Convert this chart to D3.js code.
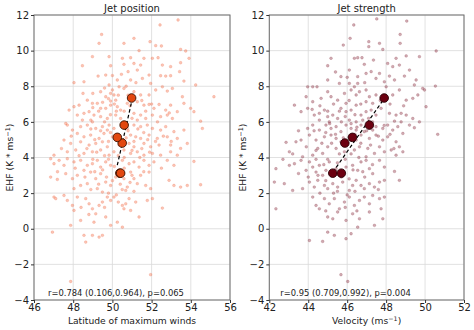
<!DOCTYPE html>
<html><head><meta charset="utf-8">
<script src="https://cdn.jsdelivr.net/npm/d3@7"></script>
<style>body{margin:0;background:#fff}svg{display:block;font-family:"DejaVu Sans",sans-serif}</style>
</head><body><div id="chart"></div>
<script>
// ---------- DATA ----------
const titles = ["Jet position", "Jet strength"];
const xLabels = ["Latitude of maximum winds", "Velocity (ms"];
const yTicks = [-4, -2, 0, 2, 4, 6, 8, 10, 12];
const xTicksPos = [46, 48, 50, 52, 54, 56];
const xTicksStr = [42, 44, 46, 48, 50, 52];
const statsPos = "r=0.784 (0.106,0.964), p=0.065";
const statsStr = "r=0.95 (0.709,0.992), p=0.004";

// binned means (large markers)
const binEHF = [3.12, 3.12, 4.81, 5.13, 5.82, 7.34];
const binLat = [50.38, 50.42, 50.50, 50.25, 50.60, 50.98];
const binVel = [45.26, 45.70, 45.88, 46.27, 47.14, 47.90];

// individual samples: [latitude, EHF]
const posPoints = [
[53.35,11.72],[52.43,11.44],[49.45,10.91],[51.10,10.69],[49.32,10.41],[50.59,10.41],[51.92,10.50],[52.21,10.28],[51.36,10.0],[53.48,10.07],[53.74,9.98],[52.50,10.26],
[48.98,9.66],[49.83,9.66],[50.51,9.57],[50.93,9.60],[51.61,9.57],[52.04,9.57],[52.33,9.60],[53.91,9.57],[48.47,9.15],[49.91,9.15],[50.59,9.23],[51.10,9.28],[51.44,9.19],[52.55,9.19],[52.97,9.10],[53.48,9.32],[49.27,8.57],[49.66,8.63],[50.46,8.67],[50.80,8.82],[51.27,8.91],[51.87,8.63],[52.46,8.59],[52.72,8.57],[52.97,8.59],[53.43,8.82],[48.04,8.20],[48.55,8.25],[50.25,8.35],[50.93,8.35],[51.53,8.44],[51.95,8.16],[53.65,8.29],[54.25,8.07],
[49.83,8.07],[50.0,7.79],[49.91,7.60],[50.08,7.51],[49.66,7.41],[50.17,7.22],[49.91,7.17],[49.40,7.69],[50.34,7.97],[50.59,7.88],[51.10,7.69],[51.44,7.51],[51.87,7.51],[52.21,7.79],[52.55,7.97],[52.80,7.73],[53.06,7.88],[53.57,7.41],[55.18,7.41],[48.04,6.85],[47.79,6.66],[48.30,6.94],[48.72,7.22],[48.98,7.04],[49.23,7.04],[49.40,6.76],[49.66,6.76],[49.91,6.94],[50.25,6.85],[50.42,6.66],[50.76,7.04],[51.27,7.13],[51.61,6.94],[51.87,6.98],[52.12,6.76],[52.38,6.98],[52.72,6.66],[52.97,6.94],[53.31,6.57],[53.65,7.04],[53.99,6.76],[48.21,6.38],[48.55,6.48],[48.81,6.57],[49.06,6.38],[49.40,6.29],[49.74,6.19],[50.17,6.38],[51.10,6.48],[51.44,6.38],[51.70,6.19],[52.04,6.38],[52.46,6.29],[52.80,6.38],[53.06,6.19],[54.16,6.57],[54.50,6.04],[47.62,5.91],[48.47,6.10],[48.98,6.0],[50.42,6.19],[51.27,6.10],
[47.70,5.82],[47.96,5.54],[48.38,5.73],[48.72,5.82],[49.15,5.63],[49.49,5.73],[49.74,5.54],[49.83,5.82],[50.08,5.63],[50.76,5.63],[51.10,5.82],[51.44,5.73],[51.78,5.82],[52.04,5.63],[52.46,5.54],[52.72,5.73],[53.14,5.45],[53.65,5.54],[54.59,5.63],[48.21,5.35],[48.55,5.16],[48.89,5.26],[49.32,5.07],[49.57,5.35],[50.0,5.16],[50.17,5.26],[50.93,5.26],[51.19,5.16],[51.44,5.07],[51.87,5.26],[52.29,5.07],[52.80,5.16],[53.31,5.07],[47.53,4.98],[47.87,4.79],[48.38,4.88],[48.81,4.70],[49.15,4.79],[49.49,4.88],[49.74,4.60],[50.34,4.70],[50.85,4.79],[51.10,4.60],[51.61,4.79],[51.95,4.60],[52.38,4.70],[52.97,4.70],[53.48,4.51],[53.82,4.79],[47.02,4.13],[47.70,4.32],[48.13,4.42],[48.55,4.23],[48.98,4.32],[49.40,4.42],[49.83,4.13],[50.08,4.32],[50.59,4.42],[50.93,4.23],[51.27,4.32],[51.61,4.13],[52.04,4.23],[52.46,4.13],[52.97,4.32],[53.31,4.13],
[46.85,3.93],[47.02,3.65],[47.28,3.84],[47.53,3.56],[47.70,3.93],[48.04,3.75],[48.38,3.84],[48.72,3.56],[48.98,3.65],[49.23,3.84],[49.40,3.46],[49.66,3.75],[49.91,3.56],[50.51,3.84],[50.85,3.65],[51.10,3.75],[51.36,3.46],[51.61,3.84],[51.87,3.56],[52.12,3.75],[52.80,3.84],[53.14,3.56],[54.16,3.78],
[46.85,2.90],[47.19,2.77],[47.62,3.09],[47.96,2.81],[48.21,3.0],[48.55,3.28],[48.72,2.53],[48.89,3.18],[49.15,2.81],[49.40,3.09],[49.66,2.62],[49.91,2.43],[50.17,2.90],[50.34,3.28],[50.59,2.81],[50.76,2.34],[50.93,3.18],[51.10,2.81],[51.27,2.53],[51.44,3.0],[51.70,2.43],[51.87,3.18],[52.89,2.72],[53.14,2.43],[53.48,2.34],[53.82,2.43],[54.50,2.47],[48.04,2.25],[48.38,2.43],[49.23,2.25],[49.49,2.06],[50.68,2.15],[51.10,2.10],[51.95,2.25],
[47.02,1.78],[47.11,1.69],[47.53,1.87],[47.70,1.59],[47.96,1.31],[48.04,1.03],[48.21,1.78],[48.64,1.69],[48.81,1.40],[48.98,1.12],[49.15,0.84],[49.32,1.31],[49.49,1.50],[49.66,0.66],[49.74,1.78],[49.91,1.59],[50.08,1.78],[50.51,1.31],[50.59,1.12],[50.68,1.40],[50.85,1.69],[50.93,1.03],[51.19,1.50],[51.36,0.66],[51.78,1.59],[52.04,1.69],[52.55,1.16],[47.87,0.19],[48.38,0.47],[49.06,0.37],[49.91,0.19],[50.25,0.37],[50.51,0.09],[46.94,-0.19],[48.55,-0.37],[48.64,-0.75],[48.98,-0.37],[49.32,-0.47],[49.49,-0.37],
[51.95,-2.58],[47.87,-2.96],
[49.6,7.9],[49.8,7.3],[50.1,7.0],[50.3,7.5],[49.5,7.1],[50.2,6.6],[49.9,6.4],[50.6,6.6],[50.9,6.9],[51.0,6.2],[49.3,6.6],[49.0,6.8],[48.9,6.1],[49.6,6.0],[50.5,5.9],[50.8,5.5],[51.3,5.6],[51.6,5.4],[49.9,5.4],[49.4,5.5],[48.9,5.6],[49.1,5.0],[49.8,4.9],[50.3,5.0],[50.7,5.1],[51.1,4.9],[51.5,4.5],[51.8,5.0],[52.2,4.9],[49.2,4.3],[49.6,4.1],[50.3,4.1],[50.6,4.0],[51.0,4.4],[51.4,4.0],[48.7,4.5],[48.3,4.1],[49.0,3.9],[49.5,3.3],[49.8,3.9],[50.1,3.5],[50.6,3.4],[51.0,3.0],[51.6,3.2],[49.1,3.2],[48.6,2.9],[49.7,2.9],[50.0,2.7],[50.4,2.5],[50.9,2.6],[49.3,2.5],[48.9,2.2],[49.8,2.0],[50.2,1.9],[50.5,2.2],[49.6,1.2],[50.3,1.5],[48.4,1.2],[48.8,0.8],[50.8,7.5],[51.5,7.2],[52.0,7.0],[51.2,8.2],[52.3,6.0],[52.6,5.2],[47.9,5.2],[47.4,4.5],[47.2,3.2],[48.1,3.4],[52.5,3.4],[53.0,4.9],[51.9,4.3],[50.0,8.6],[49.0,7.6],[48.5,7.6],[52.9,6.5],[51.7,6.6],[50.7,8.0]
];

// individual samples: [velocity, EHF]
const strPoints = [
[47.52,11.78],[49.06,11.66],[46.34,11.44],[46.15,10.69],[45.80,10.31],[47.11,10.50],[47.11,10.22],[47.66,10.41],[47.83,10.07],[48.72,10.41],[48.72,10.91],[50.57,9.98],
[45.17,9.57],[46.37,9.57],[46.54,9.60],[46.76,9.60],[47.35,9.47],[48.51,9.57],[49.03,9.70],[49.71,9.66],[45.0,9.15],[46.88,9.23],[48.08,9.28],[48.34,9.10],[48.68,9.19],[49.20,8.91],[46.11,8.91],[46.54,8.54],[46.97,8.72],[47.23,8.82],[47.66,8.72],[48.17,8.57],[48.94,8.57],[49.54,8.35],[45.0,8.35],[45.68,8.54],[45.60,8.16],[46.11,8.16],[47.48,8.44],[47.91,8.25],[48.43,8.35],[49.45,8.07],[49.88,7.88],[50.53,8.01],[43.97,7.97],[44.23,7.97],[44.45,7.97],[46.54,8.16],[46.37,7.97],
[43.29,6.94],[43.63,6.57],[43.89,7.41],[44.23,7.13],[44.66,7.32],[45.0,7.69],[45.17,7.41],[45.51,7.22],[45.86,7.60],[45.94,7.04],[46.20,7.79],[46.46,7.51],[46.63,7.69],[46.97,7.79],[47.14,7.41],[47.48,7.51],[48.0,7.97],[48.34,7.51],[48.68,7.79],[49.03,7.22],[49.37,7.32],[49.63,7.51],[49.97,7.79],[50.05,6.85],[43.97,6.76],[44.31,6.38],[44.57,6.48],[44.83,6.66],[45.0,6.29],[45.26,6.38],[45.51,6.19],[45.68,6.76],[45.94,6.57],[46.20,6.66],[46.46,6.94],[46.71,6.38],[46.97,6.57],[47.23,6.66],[47.48,6.38],[47.74,6.76],[48.17,6.48],[48.51,6.38],[48.77,6.48],[49.03,6.38],[49.37,6.19],[49.71,6.0],[44.57,6.10],[45.08,6.0],[46.11,6.10],[46.46,6.0],[48.43,6.04],[48.77,6.0],[46.97,7.13],[47.31,7.04],
[42.86,4.85],[43.03,4.32],[43.37,4.88],[43.63,4.98],[43.97,5.63],[44.23,5.82],[44.57,5.54],[44.91,5.82],[45.17,5.63],[45.43,5.73],[45.68,5.45],[45.94,5.82],[46.20,5.63],[46.46,5.54],[46.71,5.82],[46.88,5.45],[47.31,5.54],[47.48,5.73],[47.83,5.63],[48.08,5.82],[48.34,5.54],[48.60,5.73],[48.86,5.35],[49.20,5.82],[49.45,5.67],[50.65,5.30],[44.06,5.26],[44.40,4.98],[44.83,5.16],[45.17,5.26],[45.43,5.07],[45.68,4.88],[46.11,5.16],[46.46,4.98],[46.71,5.26],[47.14,5.07],[47.48,5.26],[47.83,4.98],[48.08,5.16],[48.51,4.88],[48.68,4.60],[48.86,4.32],[44.49,4.51],[44.74,4.23],[45.0,4.60],[45.43,4.51],[45.86,4.32],[46.37,4.42],[46.63,4.60],[47.06,4.51],[47.40,4.23],[47.66,4.60],[47.91,4.32],[48.26,4.42],[48.51,4.13],[43.71,4.04],[44.23,4.13],[46.97,4.04],
[42.34,3.37],[42.26,2.62],[42.77,2.53],[43.03,3.56],[43.29,3.65],[43.63,3.84],[43.89,3.28],[44.06,3.75],[44.23,3.46],[44.40,3.18],[44.57,3.56],[44.74,3.0],[44.91,3.28],[45.08,3.75],[45.43,3.37],[45.94,3.46],[46.28,3.56],[46.54,3.28],[46.71,3.75],[46.97,3.84],[47.14,3.37],[47.31,3.09],[47.66,3.84],[47.91,3.46],[48.43,3.22],[48.68,2.72],[43.71,2.25],[44.06,2.62],[44.31,2.34],[44.49,2.72],[44.83,2.43],[45.0,2.25],[45.26,2.53],[45.51,2.34],[45.77,2.62],[46.11,2.15],[46.28,2.43],[46.46,2.72],[46.71,2.43],[46.88,2.25],[47.14,2.53],[47.40,2.34],[47.66,2.62],[47.91,2.72],
[42.34,1.12],[43.20,2.15],[44.23,1.78],[44.40,1.31],[44.57,1.12],[44.83,1.69],[45.08,1.40],[45.34,1.69],[45.60,1.12],[45.86,1.50],[46.11,1.78],[46.37,1.31],[46.63,1.59],[46.88,1.78],[47.14,1.40],[47.31,1.87],[47.66,1.69],[47.91,1.78],[47.74,1.12],[45.0,0.66],[45.26,0.56],[45.51,0.94],[45.94,0.47],[46.28,0.84],[46.54,0.09],[46.63,0.56],[47.14,0.94],[47.40,0.19],[47.83,0.56],[44.06,-0.66],[44.74,-0.71],[45.0,-0.19],[45.34,-0.37],[45.94,-0.56],[46.20,-0.28],
[45.68,-2.58],[46.03,-2.96],
[45.3,7.0],[45.6,6.6],[45.9,6.3],[46.1,7.2],[46.4,6.4],[46.7,7.0],[46.2,5.9],[45.7,6.0],[45.1,5.9],[44.9,5.4],[45.4,5.3],[45.8,5.1],[46.0,4.7],[46.4,5.3],[46.7,4.8],[47.0,5.5],[47.3,6.0],[47.6,5.2],[47.9,5.8],[45.2,4.8],[44.7,4.8],[44.4,4.4],[45.6,4.2],[46.2,4.2],[46.6,4.0],[47.2,4.7],[45.0,3.9],[45.5,3.7],[45.9,3.9],[46.3,3.3],[46.8,3.2],[45.2,3.1],[44.8,3.6],[44.5,3.0],[45.7,2.9],[46.1,2.8],[46.9,2.9],[44.9,2.7],[45.5,2.1],[46.0,1.9],[46.4,2.1],[44.6,2.0],[45.3,2.0],[45.9,1.2],[46.5,1.0],[44.9,1.0],[44.4,3.9],[43.9,4.6],[43.5,5.5],[44.6,6.9],[44.2,6.7],[46.0,8.5],[46.9,8.2],[45.4,8.8],[47.7,7.2],[48.2,7.0],[48.9,6.9],[48.2,5.3],[48.4,4.5],[47.3,3.6],[47.6,2.2],[43.5,3.1],[43.2,4.2],[42.7,3.9],[44.0,2.9],[47.1,6.2],[46.5,5.7],[45.0,6.6],[44.3,5.5],[46.8,6.1]
];

// ---------- DRAW ----------
const W = 474, H = 330;
const svg = d3.select("#chart").append("svg").attr("width", W).attr("height", H);
svg.append("rect").attr("width", W).attr("height", H).attr("fill", "#fff");

const panels = [
  {title: titles[0], xl: xLabels[0], sup: false, xDom: [46, 56], xTicks: xTicksPos, range: [34, 230],
   pts: posPoints, binX: binLat, stats: statsPos, ptColor: "#f46d43", ptEdge: "#e8553a",
   bigFill: "#e2470f", bigEdge: "#3a1000", ylabX: 10},
  {title: titles[1], xl: xLabels[1], sup: true, xDom: [42, 52], xTicks: xTicksStr, range: [269.3, 464],
   pts: strPoints, binX: binVel, stats: statsStr, ptColor: "#8c2d3e", ptEdge: "#7a1f30",
   bigFill: "#6b0010", bigEdge: "#2a0006", ylabX: 243}
];

const y = d3.scaleLinear().domain([-4, 12]).range([300, 15]);

panels.forEach(p => {
  const x = d3.scaleLinear().domain(p.xDom).range(p.range);
  const g = svg.append("g");
  const x0 = p.range[0], x1 = p.range[1], y0 = y(12), y1 = y(-4);

  // grid
  g.append("g").selectAll("line.gx").data(p.xTicks).join("line")
    .attr("x1", d => x(d)).attr("x2", d => x(d)).attr("y1", y0).attr("y2", y1)
    .attr("stroke", "#d9d9d9").attr("stroke-width", 0.8);
  g.append("g").selectAll("line.gy").data(yTicks).join("line")
    .attr("x1", x0).attr("x2", x1).attr("y1", d => y(d)).attr("y2", d => y(d))
    .attr("stroke", "#d9d9d9").attr("stroke-width", 0.8);

  // samples
  g.append("g").selectAll("circle").data(p.pts).join("circle")
    .attr("cx", d => x(d[0])).attr("cy", d => y(d[1])).attr("r", 1.4)
    .attr("fill", p.ptColor).attr("fill-opacity", 0.4)
    .attr("stroke", p.ptEdge).attr("stroke-opacity", 0.35).attr("stroke-width", 0.5);

  // regression through binned means
  const bins = p.binX.map((bx, i) => [bx, binEHF[i]]);
  const mx = d3.mean(bins, d => d[0]), my = d3.mean(bins, d => d[1]);
  const slope = d3.sum(bins, d => (d[0] - mx) * (d[1] - my)) / d3.sum(bins, d => (d[0] - mx) ** 2);
  const [bx0, bx1] = d3.extent(p.binX);
  const fit = [bx0, bx1].map(v => [v, my + slope * (v - mx)]);
  g.append("path").attr("d", d3.line().x(d => x(d[0])).y(d => y(d[1]))(fit))
    .attr("stroke", "#000").attr("stroke-width", 1.2).attr("stroke-dasharray", "3.5,2.5").attr("fill", "none");

  g.append("g").selectAll("circle").data(bins).join("circle")
    .attr("cx", d => x(d[0])).attr("cy", d => y(d[1])).attr("r", 4.3)
    .attr("fill", p.bigFill).attr("stroke", p.bigEdge).attr("stroke-width", 0.9);

  // frame
  g.append("rect").attr("x", x0).attr("y", y0).attr("width", x1 - x0).attr("height", y1 - y0)
    .attr("fill", "none").attr("stroke", "#6e6e6e").attr("stroke-width", 1);

  // axes
  const ax = g.append("g").attr("transform", `translate(0,${y1})`)
    .call(d3.axisBottom(x).tickValues(p.xTicks).tickSize(3).tickPadding(1).tickFormat(d3.format("d")));
  const ay = g.append("g").attr("transform", `translate(${x0},0)`)
    .call(d3.axisLeft(y).tickValues(yTicks).tickSize(3).tickPadding(2).tickFormat(d3.format("d")));
  [ax, ay].forEach(a => {
    a.select(".domain").remove();
    a.selectAll(".tick line").attr("stroke", "#333");
    a.selectAll("text").attr("font-size", 10).attr("fill", "#222").attr("font-family", "DejaVu Sans");
  });

  // title
  g.append("text").attr("x", (x0 + x1) / 2).attr("y", 11.5).attr("text-anchor", "middle")
    .attr("font-size", 10).attr("fill", "#222").text(p.title);

  // x label
  const xt = g.append("text").attr("x", (x0 + x1) / 2).attr("y", 323.5).attr("text-anchor", "middle")
    .attr("font-size", 9.2).attr("fill", "#222").text(p.xl);
  if (p.sup) {
    xt.append("tspan").attr("dy", -3).attr("font-size", 6.3).text("\u22121");
    xt.append("tspan").attr("dy", 3).text(")");
  }

  // y label
  const yt = g.append("text").attr("transform", `translate(${p.ylabX},${(y0 + y1) / 2}) rotate(-90)`)
    .attr("text-anchor", "middle").attr("dy", "0.35em").attr("font-size", 9.2).attr("fill", "#222")
    .text("EHF (K * ms");
  yt.append("tspan").attr("dy", -3.5).attr("font-size", 6.5).text("\u22121");
  yt.append("tspan").attr("dy", 3.5).text(")");

  // stats annotation
  g.append("text").attr("x", x0 + (p.sup ? 11 : 14)).attr("y", 296).attr("font-size", 8.4).attr("fill", "#222")
    .text(p.stats);
});
</script></body></html>
